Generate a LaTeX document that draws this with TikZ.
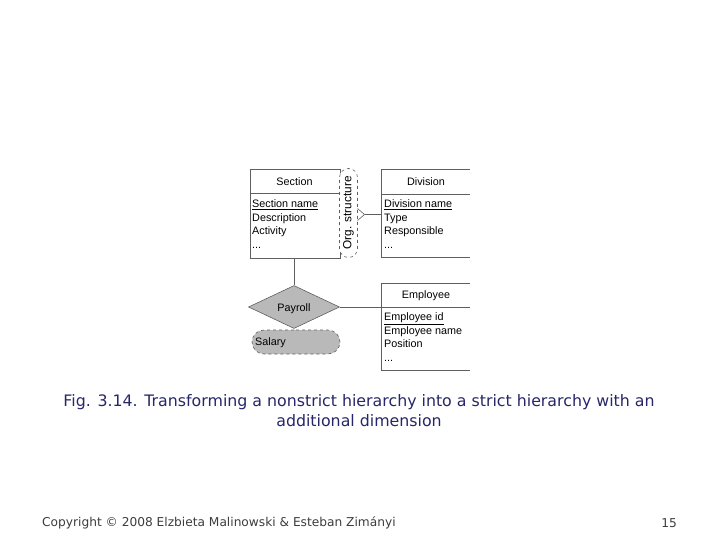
\documentclass[tikz,border=0pt]{standalone}
\usepackage{fontspec}
\setmainfont{Liberation Sans}
\newfontfamily\capfont{DejaVu Sans}
\usetikzlibrary{shapes.geometric,shapes.misc}
\definecolor{lineg}{RGB}{95,95,95}
\definecolor{fillg}{RGB}{185,185,185}
\definecolor{capblue}{RGB}{38,38,105}
\definecolor{footg}{RGB}{60,60,60}
\tikzset{
  ent/.style={draw=lineg, line width=0.8pt},
  attr/.style={anchor=base west, inner sep=0pt, font=\fontsize{10.8}{12}\selectfont},
  head/.style={anchor=base, inner sep=0pt, font=\fontsize{10.8}{12}\selectfont},
  conn/.style={draw=lineg, line width=0.8pt},
}
\begin{document}
\begin{tikzpicture}[x=1pt,y=-1pt]
\useasboundingbox (0,0) rectangle (720,540);
% Section box
\node[ent, minimum width=90pt, minimum height=88.5pt, inner sep=0pt, anchor=north west] (section) at (250,169.5) {};
\draw[lineg, line width=0.8pt] (250,193.5) -- (340,193.5);
\node[head] (sectionh) at (294.5,185.5) {Section};
\node[attr] (sa1) at (252,207.5) {\underline{Section name}};
\node[attr] (sa2) at (252,221.5) {Description};
\node[attr] (sa3) at (252,235) {Activity};
\node[attr] (sa4) at (252,248.5) {...};
% Division box (open on the right)
\coordinate (division) at (381,169.5);
\draw[lineg, line width=0.8pt] (470,169.5) -- (381,169.5) -- (381,257) -- (470,257);
\draw[lineg, line width=0.8pt] (381,194) -- (470,194);
\node[head] (divisionh) at (426,185.5) {Division};
\node[attr] (da1) at (384,207.5) {\underline{Division name}};
\node[attr] (da2) at (384,221.5) {Type};
\node[attr] (da3) at (384,235) {Responsible};
\node[attr] (da4) at (384,248.5) {...};
% Org. structure
\node[draw=lineg, dashed, fill=white, rounded rectangle, line width=0.6pt, minimum width=89pt, minimum height=18pt, inner sep=0pt, rotate=90, font=\fontsize{11.8}{12}\selectfont] (org) at (348.5,213) {Org. structure};
% crow's foot connector
\coordinate (cf) at (364.5,214.5);
\draw[conn] (cf) -- (division |- cf);
\draw[conn, line width=0.6pt] (357.5,208.5) -- (cf) -- (357.5,220.5);
% Employee box (open on the right)
\coordinate (employee) at (381,283);
\draw[lineg, line width=0.8pt] (470,283) -- (381,283) -- (381,370) -- (470,370);
\draw[lineg, line width=0.8pt] (381,307.5) -- (470,307.5);
\node[head] (employeeh) at (426,298.5) {Employee};
\node[attr] (ea1) at (384,320.5) {\underline{Employee id}};
\node[attr] (ea2) at (384,334) {Employee name};
\node[attr] (ea3) at (384,347.5) {Position};
\node[attr] (ea4) at (384,361) {...};
% Payroll
\node[diamond, draw=lineg, fill=fillg, line width=0.6pt, minimum width=91pt, minimum height=43pt, inner sep=0pt, aspect=2.1] (payroll) at (294,307) {};
\node[head] (payrollt) at (294,311.5) {Payroll};
\draw[conn] (section.south -| payroll.north) -- (payroll.north);
\draw[conn] (payroll.east) -- (employee |- payroll.east);
% Salary
\node[rounded rectangle, draw=lineg, dashed, fill=fillg, line width=0.6pt, minimum width=88pt, minimum height=24pt, inner sep=0pt] (salary) at (296,342) {};
\node[attr] (salaryt) at (255,345.5) {Salary};
% caption
\node[font=\capfont\fontsize{15.8}{20}\selectfont, text=capblue, align=center, inner sep=0pt] (caption) at (359,411) {Fig. 3.14. Transforming a nonstrict hierarchy into a strict hierarchy with an\\additional dimension};
% footer
\node[font=\capfont\fontsize{12.2}{14}\selectfont, text=footg, anchor=west, inner sep=0pt] (copy) at (42,523) {Copyright © 2008 Elzbieta Malinowski \& Esteban Zimányi};
\node[font=\capfont\fontsize{12.2}{14}\selectfont, text=footg, anchor=east, inner sep=0pt] (pageno) at (677,523) {15};
\end{tikzpicture}
\end{document}
